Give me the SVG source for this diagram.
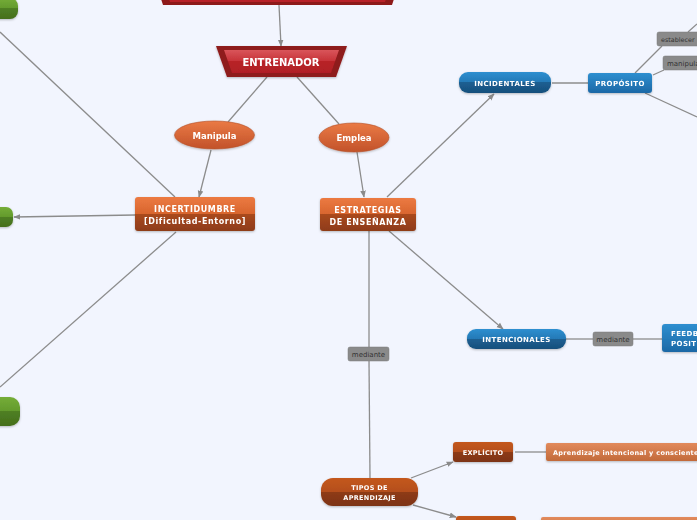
<svg xmlns="http://www.w3.org/2000/svg" width="697" height="520" viewBox="0 0 697 520">
<defs>
<linearGradient id="gOr" x1="0" y1="0" x2="0" y2="1">
<stop offset="0" stop-color="#ec7a42"/><stop offset="0.5" stop-color="#d8652e"/><stop offset="0.5" stop-color="#a9491f"/><stop offset="1" stop-color="#8e3c19"/>
</linearGradient>
<linearGradient id="gOr2" x1="0" y1="0" x2="0" y2="1">
<stop offset="0" stop-color="#c4581f"/><stop offset="0.5" stop-color="#b44e1c"/><stop offset="0.5" stop-color="#8e3b15"/><stop offset="1" stop-color="#7d3312"/>
</linearGradient>
<linearGradient id="gOrL" x1="0" y1="0" x2="0" y2="1">
<stop offset="0" stop-color="#e28a5c"/><stop offset="1" stop-color="#c26a3a"/>
</linearGradient>
<linearGradient id="gEl" x1="0" y1="0" x2="0" y2="1">
<stop offset="0" stop-color="#ea7a45"/><stop offset="1" stop-color="#c2522a"/>
</linearGradient>
<linearGradient id="gBl" x1="0" y1="0" x2="0" y2="1">
<stop offset="0" stop-color="#2e8fd0"/><stop offset="0.5" stop-color="#2479b6"/><stop offset="0.5" stop-color="#1c5f92"/><stop offset="1" stop-color="#174f7c"/>
</linearGradient>
<linearGradient id="gBl2" x1="0" y1="0" x2="0" y2="1">
<stop offset="0" stop-color="#2e8fd0"/><stop offset="1" stop-color="#1c68a6"/>
</linearGradient>
<linearGradient id="gGr" x1="0" y1="0" x2="0" y2="1">
<stop offset="0" stop-color="#75ad38"/><stop offset="0.5" stop-color="#639a2c"/><stop offset="0.5" stop-color="#4f7f22"/><stop offset="1" stop-color="#456f1d"/>
</linearGradient>
<linearGradient id="gRd" x1="0" y1="0" x2="0" y2="1">
<stop offset="0" stop-color="#d9555a"/><stop offset="0.5" stop-color="#c63238"/><stop offset="0.5" stop-color="#b82228"/><stop offset="1" stop-color="#b01f25"/>
</linearGradient>
<marker id="arr" viewBox="0 0 10 10" refX="9" refY="5" markerWidth="7" markerHeight="7" orient="auto" markerUnits="userSpaceOnUse">
<path d="M0,1 L10,5 L0,9 z" fill="#8a8a8a"/>
</marker>
<filter id="sh" x="-10%" y="-20%" width="120%" height="150%">
<feDropShadow dx="0" dy="1" stdDeviation="1" flood-color="#000" flood-opacity="0.25"/>
</filter>
</defs>
<style>
.c{stroke:#8c8c8c;stroke-width:1.3;fill:none}
.t{font-family:"DejaVu Sans",Verdana,sans-serif;font-weight:bold;fill:#fff;text-anchor:middle}
.lb{fill:#8a8a8a;stroke:#7a7a7a;stroke-width:0.5}
.lt{font-family:"DejaVu Sans",Verdana,sans-serif;font-size:7px;fill:#333;text-anchor:middle}
</style>
<rect width="697" height="520" fill="#f2f5fe"/>

<g id="connectors">
<line class="c" x1="279" y1="5" x2="281" y2="46" marker-end="url(#arr)"/>
<line class="c" x1="267" y1="77" x2="228" y2="122"/>
<line class="c" x1="297" y1="77" x2="339" y2="124"/>
<line class="c" x1="211" y1="150" x2="199" y2="197" marker-end="url(#arr)"/>
<line class="c" x1="357" y1="152" x2="364" y2="197" marker-end="url(#arr)"/>
<line class="c" x1="135" y1="215" x2="14" y2="217" marker-end="url(#arr)"/>
<line class="c" x1="0" y1="32" x2="175" y2="197"/>
<line class="c" x1="176" y1="232" x2="0" y2="387"/>
<line class="c" x1="387" y1="197" x2="494" y2="94" marker-end="url(#arr)"/>
<line class="c" x1="552" y1="83" x2="588" y2="83"/>
<line class="c" x1="635" y1="73" x2="662" y2="46"/>
<line class="c" x1="688" y1="32" x2="697" y2="24"/>
<line class="c" x1="653" y1="75" x2="664" y2="70"/>
<line class="c" x1="645" y1="93" x2="697" y2="117"/>
<line class="c" x1="389" y1="231" x2="503" y2="329" marker-end="url(#arr)"/>
<line class="c" x1="566" y1="339" x2="593" y2="339"/>
<line class="c" x1="633" y1="339" x2="662" y2="339"/>
<line class="c" x1="369" y1="231" x2="369" y2="347"/>
<line class="c" x1="369" y1="361" x2="370" y2="478"/>
<line class="c" x1="411" y1="478" x2="453" y2="462" marker-end="url(#arr)"/>
<line class="c" x1="515" y1="452" x2="546" y2="452"/>
<line class="c" x1="413" y1="505" x2="456" y2="517" marker-end="url(#arr)"/>
</g>

<g id="n-top">
<polygon points="158,-10 397,-10 392,5 163,5" fill="#8e1a1a"/>
<polygon points="166,-10 389,-10 385,2 170,2" fill="#b82228"/>
</g>

<g id="n-entrenador" filter="url(#sh)">
<polygon points="216,46 347,46 336,77 227,77" fill="#8e1a1a"/>
<polygon points="224,50 339,50 331,73 232,73" fill="url(#gRd)"/>
<text class="t" x="281" y="66" font-size="10">ENTRENADOR</text>
</g>

<g id="n-manipula" filter="url(#sh)">
<ellipse cx="214.5" cy="135" rx="40" ry="14" fill="url(#gEl)" stroke="#b4502a" stroke-width="0.6"/>
<text class="t" x="214.5" y="138.5" font-size="8.5">Manipula</text>
</g>

<g id="n-emplea" filter="url(#sh)">
<ellipse cx="354" cy="137.5" rx="35" ry="14.5" fill="url(#gEl)" stroke="#b4502a" stroke-width="0.6"/>
<text class="t" x="354" y="141" font-size="8.5">Emplea</text>
</g>

<g id="n-incertidumbre" filter="url(#sh)">
<rect x="135" y="197" width="120" height="34" rx="3" fill="url(#gOr)"/>
<text class="t" x="195" y="212" font-size="8" letter-spacing="0.6">INCERTIDUMBRE</text>
<text class="t" x="195" y="223.5" font-size="8" letter-spacing="0.6">[Dificultad-Entorno]</text>
</g>

<g id="n-estrategias" filter="url(#sh)">
<rect x="320" y="198" width="96" height="33" rx="3" fill="url(#gOr)"/>
<text class="t" x="368" y="213" font-size="8" letter-spacing="0.6">ESTRATEGIAS</text>
<text class="t" x="368" y="224.5" font-size="8" letter-spacing="0.6">DE ENSEÑANZA</text>
</g>

<g id="n-green1" filter="url(#sh)">
<rect x="-20" y="-2" width="38" height="21" rx="8" fill="url(#gGr)"/>
</g>
<g id="n-green2" filter="url(#sh)">
<rect x="-20" y="207" width="33" height="20" rx="7" fill="url(#gGr)"/>
</g>
<g id="n-green3" filter="url(#sh)">
<rect x="-20" y="397" width="40" height="29" rx="10" fill="url(#gGr)"/>
</g>

<g id="n-incidentales" filter="url(#sh)">
<rect x="459" y="72" width="92" height="21" rx="9" fill="url(#gBl)"/>
<text class="t" x="505" y="85.5" font-size="7" letter-spacing="0.4">INCIDENTALES</text>
</g>

<g id="n-proposito" filter="url(#sh)">
<rect x="588" y="73" width="64" height="20" rx="3" fill="url(#gBl2)"/>
<text class="t" x="620" y="86" font-size="7" letter-spacing="0.4">PROPÓSITO</text>
</g>

<g id="l-establecer">
<rect class="lb" x="657" y="32" width="50" height="14" rx="2"/>
<text class="lt" x="661" y="42" font-size="6.4" style="text-anchor:start;font-size:6.4px">establecer</text>
</g>
<g id="l-manipula">
<rect class="lb" x="663" y="56" width="44" height="14" rx="2"/>
<text class="lt" x="667" y="66" style="text-anchor:start">manipula</text>
</g>

<g id="n-intencionales" filter="url(#sh)">
<rect x="467" y="329" width="99" height="20" rx="9" fill="url(#gBl)"/>
<text class="t" x="516.5" y="342" font-size="7" letter-spacing="0.4">INTENCIONALES</text>
</g>

<g id="l-mediante1">
<rect class="lb" x="593" y="332" width="40" height="14" rx="2"/>
<text class="lt" x="613" y="342">mediante</text>
</g>

<g id="n-feedback" filter="url(#sh)">
<rect x="662" y="324" width="50" height="28" rx="3" fill="url(#gBl2)"/>
<text class="t" x="671" y="336" font-size="7" letter-spacing="0.4" style="text-anchor:start">FEEDBACK</text>
<text class="t" x="671" y="346" font-size="7" letter-spacing="0.4" style="text-anchor:start">POSITIVO</text>
</g>

<g id="l-mediante2">
<rect class="lb" x="348" y="347" width="41" height="14" rx="2"/>
<text class="lt" x="368.5" y="357">mediante</text>
</g>

<g id="n-tipos" filter="url(#sh)">
<rect x="321" y="478" width="97" height="28" rx="12" fill="url(#gOr2)"/>
<text class="t" x="369.5" y="490" font-size="6.5" letter-spacing="0.3">TIPOS DE</text>
<text class="t" x="369.5" y="499.5" font-size="6.5" letter-spacing="0.3">APRENDIZAJE</text>
</g>

<g id="n-explicito" filter="url(#sh)">
<rect x="453" y="442" width="60" height="20" rx="3" fill="url(#gOr2)"/>
<text class="t" x="483" y="455" font-size="6.5" letter-spacing="0.3">EXPLÍCITO</text>
</g>

<g id="n-aprendizaje-int" filter="url(#sh)">
<rect x="546" y="443" width="160" height="18" rx="2" fill="url(#gOrL)"/>
<text class="t" x="553" y="455" font-size="6.5" letter-spacing="0.3" style="text-anchor:start">Aprendizaje intencional y consciente</text>
</g>

<g id="n-implicito" filter="url(#sh)">
<rect x="456" y="516" width="60" height="20" rx="3" fill="url(#gOr2)"/>
</g>
<g id="n-aprendizaje-imp" filter="url(#sh)">
<rect x="541" y="517" width="170" height="18" rx="2" fill="url(#gOrL)"/>
</g>
</svg>
